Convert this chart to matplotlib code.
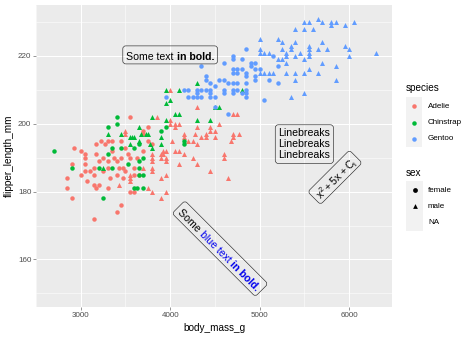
import matplotlib
matplotlib.use("Agg")
import matplotlib.pyplot as plt
from matplotlib.patches import FancyBboxPatch, Rectangle
from matplotlib.transforms import Affine2D, IdentityTransform
import numpy as np

plt.rcParams['font.family'] = ['Liberation Sans', 'DejaVu Sans']

# (body_mass_g, flipper_length_mm), per species / sex
adelie_female = [
    (2925, 193), (3000, 192), (3050, 191), (3050, 190), (3175, 194), (3175, 191),
    (3225, 195), (3275, 194), (3300, 195), (3350, 195), (3450, 195), (3550, 202),
    (3150, 172), (3400, 174), (3450, 176), (2900, 178), (2850, 181), (2850, 184),
    (2900, 188), (3000, 185), (3050, 188), (3075, 183), (3100, 186), (3150, 185),
    (3150, 182), (3150, 187), (3300, 187), (3300, 181), (3325, 184), (3400, 185),
    (3475, 184), (3425, 187), (3475, 187), (3300, 189), (3400, 189), (3500, 186),
    (3550, 180), (3600, 180), (3600, 185), (3650, 185), (3600, 187), (3050, 186),
    (3200, 182), (3175, 181), (3750, 199), (3700, 198), (3700, 197), (3750, 195),
    (3800, 194), (3350, 192), (3450, 190), (3550, 190), (3500, 193), (3250, 190),
    (3375, 190), (3525, 191), (3625, 190), (3250, 186), (3200, 189), (3700, 192),
]
adelie_male = [
    (3850, 202), (4000, 210), (4300, 205), (4700, 203), (4750, 203), (4000, 200),
    (4000, 201), (4050, 200), (4050, 199), (4100, 200), (4450, 199), (4500, 198),
    (4700, 197), (4300, 199), (3500, 198), (3500, 197), (4150, 197), (4150, 196),
    (4275, 197), (4400, 197), (4450, 198), (4550, 200), (4350, 196), (4400, 196),
    (4500, 196), (4200, 195), (4250, 195), (4300, 194), (4025, 195), (3925, 192),
    (3925, 191), (4050, 192), (4100, 192), (4150, 191), (4250, 190), (4600, 191),
    (4600, 190), (3800, 191), (3800, 190), (3800, 189), (3800, 187), (3800, 186),
    (3900, 191), (3900, 190), (3950, 192), (3950, 190), (3950, 189), (4100, 188),
    (4300, 188), (4450, 186), (4650, 184), (3900, 184), (3950, 185), (3900, 178),
    (3950, 180), (3800, 180), (3750, 181), (3700, 187), (3550, 183), (3550, 184),
    (3550, 185), (3425, 182), (4775, 197), (4700, 196), (4675, 195),
]
chinstrap_female = [
    (2700, 192), (3400, 202), (3400, 200), (3300, 199), (3950, 199), (3900, 198),
    (3250, 178), (3600, 181), (3625, 181), (3700, 181), (3650, 189), (3650, 187),
    (3700, 185), (3650, 185), (3700, 190), (3525, 188), (3350, 187), (3200, 187),
    (2900, 187), (4150, 195), (4150, 194), (3650, 194), (3300, 191), (3450, 193),
    (3600, 193), (3350, 193),
]
chinstrap_male = [
    (3950, 210), (4100, 210), (4800, 210), (4000, 207), (3950, 206), (4500, 205),
    (4550, 205), (4300, 212), (3800, 202), (4050, 203), (4100, 203), (4300, 201),
    (4450, 201), (3950, 201), (3300, 197), (3450, 197), (3550, 196), (3575, 196),
    (3550, 194), (3650, 199), (3675, 197), (3725, 197), (3750, 197), (3600, 196),
    (3650, 195), (3900, 196), (3900, 194), (3775, 194), (3800, 193), (3250, 187),
]
gentoo_female = [
    (4700, 220), (4700, 219), (4800, 219), (4600, 218), (4350, 217), (4900, 218),
    (4700, 216), (4700, 215), (4750, 216), (4750, 215), (4800, 216), (4400, 214),
    (4400, 213), (4550, 213), (4600, 213), (4850, 214), (4700, 212), (4650, 212),
    (4750, 212), (4450, 212), (4500, 211), (4700, 210), (4700, 209), (4350, 210),
    (4400, 210), (4450, 210), (4300, 210), (4600, 210), (4600, 209), (4750, 210),
    (4150, 210), (4200, 210), (4300, 209), (4300, 208), (4450, 209), (4450, 208),
    (4500, 208), (4250, 208), (4350, 208), (4200, 208), (4850, 209), (4850, 208),
    (3950, 208), (4500, 205), (4850, 222), (4950, 218), (4900, 217), (4950, 216),
    (5000, 216), (4850, 215), (4950, 214), (4950, 213), (4850, 212), (5100, 213),
    (5200, 212), (5150, 220), (5200, 217), (4850, 210), (5050, 207), (4650, 203),
    (4800, 209),
]
gentoo_male = [
    (5650, 231), (5500, 230), (5550, 230), (5700, 230), (5800, 230), (5850, 230),
    (5800, 229), (5950, 229), (6050, 230), (5400, 228), (5500, 228), (5600, 228),
    (5200, 225), (5250, 224), (5400, 224), (5000, 225), (5550, 223), (5550, 222),
    (5550, 221), (5650, 222), (5700, 224), (5350, 223), (5250, 222), (5350, 222),
    (5000, 222), (5000, 221), (5050, 221), (5100, 221), (5300, 221), (5300, 220),
    (5450, 221), (5750, 222), (5400, 220), (5550, 220), (5200, 219), (5250, 219),
    (5300, 218), (5500, 219), (5700, 218), (5000, 215), (5050, 215), (5100, 215),
    (5150, 215), (5300, 215), (5400, 215), (5500, 215), (5650, 215), (5550, 216),
    (5400, 213), (5500, 209), (5350, 208), (5950, 223), (6000, 222), (6000, 220),
    (6300, 221), (5850, 217), (5850, 213),
]

species = ["Adelie", "Chinstrap", "Gentoo"]
sexes = ["female", "male", "NA"]
colors = {"Adelie": "#F8766D", "Chinstrap": "#00BA38", "Gentoo": "#619CFF"}
markers = {"female": "o", "male": "^"}

W, H = 474, 338
fig = plt.figure(figsize=(W / 72, H / 72), dpi=72)
ax = fig.add_axes([36 / W, 1 - 307 / H, 356 / W, 302 / H])
ax.set_facecolor("#EBEBEB")
for s in ax.spines.values():
    s.set_visible(False)

ax.set_xlim(2520, 6480)
ax.set_ylim(146, 235)
ax.set_xticks([3000, 4000, 5000, 6000])
ax.set_yticks([160, 180, 200, 220])
ax.set_xticks([2500, 3500, 4500, 5500], minor=True)
ax.set_yticks([150, 170, 190, 210, 230], minor=True)
ax.grid(which="major", color="white", lw=1.0)
ax.grid(which="minor", color="white", lw=0.5)
ax.set_axisbelow(True)
ax.tick_params(which="major", length=2.7, width=0.5, color="#333333",
               labelsize=8, labelcolor="#4D4D4D", pad=2)
ax.tick_params(which="minor", length=0)
ax.set_xlabel("body_mass_g", fontsize=10, labelpad=4)
ax.set_ylabel("flipper_length_mm", fontsize=10, labelpad=4)

groups = [
    ("Adelie", "female", adelie_female), ("Adelie", "male", adelie_male),
    ("Chinstrap", "female", chinstrap_female), ("Chinstrap", "male", chinstrap_male),
    ("Gentoo", "female", gentoo_female), ("Gentoo", "male", gentoo_male),
]
for sp, sx, pts in groups:
    arr = np.array(pts)
    ax.scatter(arr[:, 0], arr[:, 1], s=20 if sx == "female" else 25,
               marker=markers[sx], color=colors[sp], linewidths=0, zorder=3)

fig.canvas.draw()
renderer = fig.canvas.get_renderer()


def text_width(s, **kw):
    t = fig.text(0, 0, s + "|", **kw)
    w1 = t.get_window_extent(renderer).width
    t.remove()
    t = fig.text(0, 0, "|", **kw)
    w2 = t.get_window_extent(renderer).width
    t.remove()
    return w1 - w2


def rich_label(x, y, parts, angle, size=10.5, pad=3.5):
    cx, cy = ax.transData.transform((x, y))
    widths = [text_width(s, fontsize=size, fontweight=wt) for s, c, wt in parts]
    total = sum(widths)
    a = np.radians(angle)
    u = np.array([np.cos(a), np.sin(a)])
    start = np.array([cx, cy]) - u * total / 2
    off = 0
    for (s, c, wt), w in zip(parts, widths):
        px, py = start + u * off
        fig.text(px, py, s, transform=IdentityTransform(), fontsize=size,
                 fontweight=wt, color=c, rotation=angle, rotation_mode="anchor",
                 ha="left", va="center_baseline", zorder=6)
        off += w
    hgt = size * 1.05
    box = FancyBboxPatch((-total / 2 - pad, -hgt / 2 - pad + 1), total + 2 * pad,
                         hgt + 2 * pad, boxstyle="round,pad=0,rounding_size=3",
                         fc="none", ec="#222222", lw=0.6,
                         transform=Affine2D().rotate_deg(angle).translate(cx, cy))
    fig.add_artist(box)


rich_label(4000, 220, [("Some text ", "black", "normal"), ("in bold.", "black", "bold")], 0)
rich_label(4550, 163, [("Some ", "black", "normal"), ("blue text ", "#0000EE", "normal"),
                       ("in bold.", "#0000EE", "bold")], -45)
rich_label(5850, 184, [(r"$\mathregular{x^2 + 5x + C_i}$", "black", "normal")], 45)
ax.text(5500, 194, "Linebreaks\nLinebreaks\nLinebreaks", fontsize=10.5, ha="center",
        va="center", linespacing=1.15, zorder=6,
        bbox=dict(boxstyle="round,pad=0.3,rounding_size=0.3", fc="none", ec="#222222", lw=0.6))


# legends, drawn in pixel coordinates of the figure
def fx(px):
    return px / W


def fy(py):
    return 1 - py / H


fig.text(fx(406), fy(88), "species", fontsize=10, va="center")
fig.add_artist(Rectangle((fx(406), fy(147)), 16 / W, 50 / H, transform=fig.transFigure,
                         fc="#F2F2F2", ec="none"))
for i, sp in enumerate(species):
    yy = 106 + i * 16.5
    fig.add_artist(plt.Line2D([fx(414)], [fy(yy)], marker="o", ms=4.5, color=colors[sp],
                              mew=0, transform=fig.transFigure))
    fig.text(fx(428), fy(yy), sp, fontsize=8, va="center")

fig.text(fx(406), fy(173), "sex", fontsize=10, va="center")
fig.add_artist(Rectangle((fx(406), fy(231)), 17 / W, 50 / H, transform=fig.transFigure,
                         fc="#F2F2F2", ec="none"))
for i, sx in enumerate(sexes):
    yy = 190 + i * 16.3
    if sx in markers:
        fig.add_artist(plt.Line2D([fx(414.5)], [fy(yy)], marker=markers[sx], ms=4.8,
                                  color="black", mew=0, transform=fig.transFigure))
    fig.text(fx(428), fy(yy), sx, fontsize=8, va="center")

fig.savefig("out.png", dpi=72)
